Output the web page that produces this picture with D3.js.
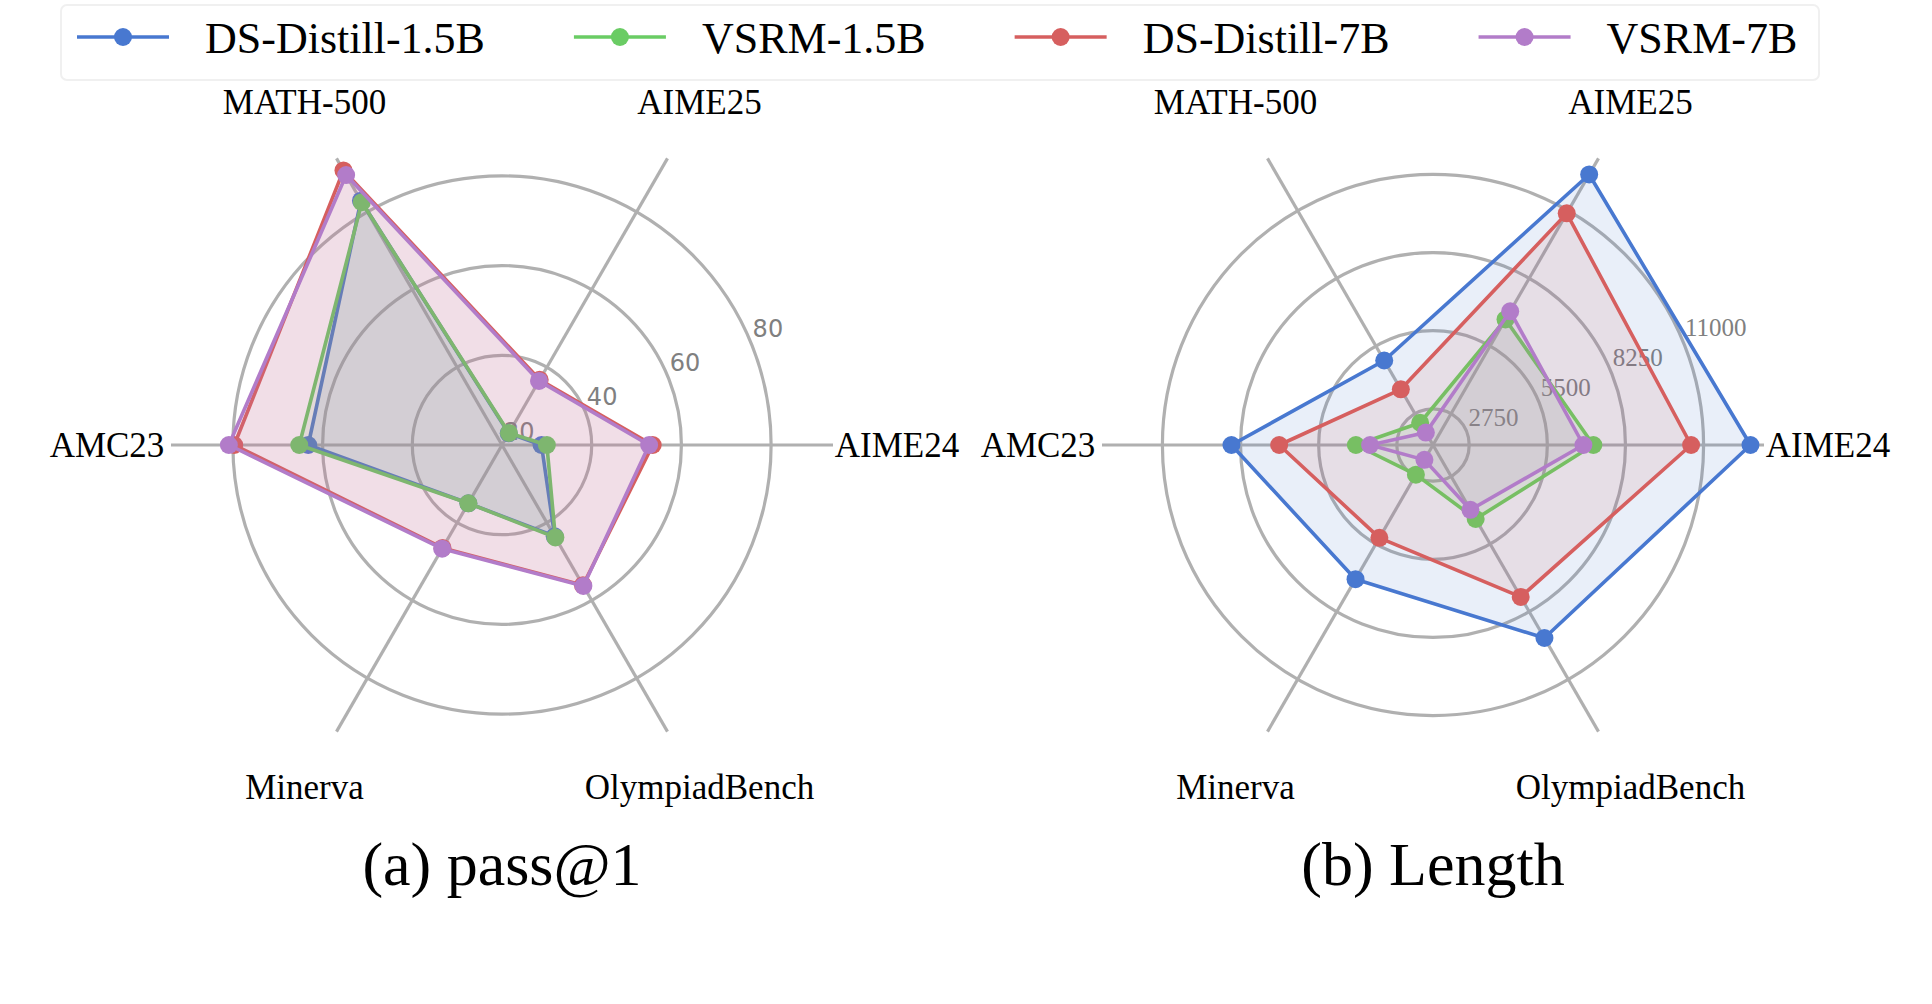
<!DOCTYPE html>
<html>
<head>
<meta charset="utf-8">
<script src="https://cdn.jsdelivr.net/npm/d3@7"></script>
<style>
body { margin: 0; background: #fff; }
</style>
</head>
<body>
<div id="chart-area"></div>
<script>
let width = 1932,
height = 1004;

// Data
const categories = ["AIME24", "AIME25", "MATH-500", "AMC23", "Minerva", "OlympiadBench"];
const models = ["DS-Distill-1.5B", "VSRM-1.5B", "DS-Distill-7B", "VSRM-7B"];
const colors = ["#4878d0", "#6acc64", "#d65f5f", "#b27cc9"];

// pass@1 (%)
const passDS15 = [28.8, 23.0, 82.9, 63.2, 35.0, 43.5];
const passVSRM15 = [30.0, 23.1, 82.5, 65.2, 35.0, 43.8];
const passDS7 = [53.6, 36.8, 90.7, 79.7, 46.5, 56.1];
const passVSRM7 = [52.8, 36.5, 89.5, 80.9, 46.7, 56.3];
const passTicks = [20, 40, 60, 80];

// response length (tokens)
const lenDS15 = [12650, 12470, 4910, 8570, 6930, 9320];
const lenVSRM15 = [7120, 6580, 2380, 4190, 2680, 4480];
const lenDS7 = [10560, 10890, 3740, 6890, 5250, 7650];
const lenVSRM7 = [6770, 6910, 1980, 3690, 2080, 4110];
const lenTicks = [2750, 5500, 8250, 11000];

let svg = d3.select("#chart-area").append("svg")
	.attr("width", width)
	.attr("height", height)
	.style("font-family", "'Liberation Serif', 'Times New Roman', serif");

const outerR = 331;
const labelR = 395;
const tickAngle = 22.5 * Math.PI / 180;

function angleOf(i) {
	return i * 2 * Math.PI / categories.length;
}

function drawRadar(cx, cy, rScale, ticks, series, tickFont, tickSize, title) {
	let g = svg.append("g").attr("transform", "translate(" + cx + "," + cy + ")");

	// rings
	g.selectAll(".ring")
		.data(ticks.filter(t => rScale(t) > 1))
		.enter().append("circle")
		.attr("r", d => rScale(d))
		.attr("fill", "none")
		.attr("stroke", "#b0b0b0")
		.attr("stroke-width", 3.2);

	// spokes
	g.selectAll(".spoke")
		.data(categories)
		.enter().append("line")
		.attr("x1", 0).attr("y1", 0)
		.attr("x2", (d, i) => outerR * Math.cos(angleOf(i)))
		.attr("y2", (d, i) => -outerR * Math.sin(angleOf(i)))
		.attr("stroke", "#b0b0b0")
		.attr("stroke-width", 3.2);

	// radial tick labels
	g.selectAll(".tick")
		.data(ticks)
		.enter().append("text")
		.attr("x", d => rScale(d) * Math.cos(tickAngle) + 2)
		.attr("y", d => -rScale(d) * Math.sin(tickAngle) - 13.5)
		.attr("dominant-baseline", "central")
		.style("font-family", tickFont)
		.style("font-size", tickSize + "px")
		.attr("fill", "#808080")
		.text(d => d);

	// category labels
	g.selectAll(".cat")
		.data(categories)
		.enter().append("text")
		.attr("x", (d, i) => labelR * Math.cos(angleOf(i)))
		.attr("y", (d, i) => -labelR * Math.sin(angleOf(i)))
		.attr("text-anchor", "middle")
		.attr("dominant-baseline", "central")
		.style("font-size", "35px")
		.attr("fill", "#000")
		.text(d => d);

	// traces
	let line = d3.lineRadial()
		.angle((d, i) => Math.PI / 2 - angleOf(i))
		.radius(d => rScale(d))
		.curve(d3.curveLinearClosed);

	series.forEach((vals, k) => {
		let tg = g.append("g");
		tg.append("path")
			.attr("d", line(vals))
			.attr("fill", colors[k])
			.attr("fill-opacity", 0.12)
			.attr("stroke", colors[k])
			.attr("stroke-width", 3.6)
			.attr("stroke-linejoin", "round");
		tg.selectAll("circle")
			.data(vals)
			.enter().append("circle")
			.attr("cx", (d, i) => rScale(d) * Math.cos(angleOf(i)))
			.attr("cy", (d, i) => -rScale(d) * Math.sin(angleOf(i)))
			.attr("r", 9)
			.attr("fill", colors[k]);
	});

	svg.append("text")
		.attr("x", cx)
		.attr("y", 885)
		.attr("text-anchor", "middle")
		.style("font-size", "62px")
		.attr("fill", "#000")
		.text(title);
}

let rPass = d3.scaleLinear().domain([20, 93.8]).range([0, outerR]);
let rLen = d3.scaleLinear().domain([1476, 13126]).range([0, outerR]);

drawRadar(502, 445, rPass, passTicks, [passDS15, passVSRM15, passDS7, passVSRM7],
	"'DejaVu Sans', sans-serif", 24, "(a) pass@1");
drawRadar(1433, 445, rLen, lenTicks, [lenDS15, lenVSRM15, lenDS7, lenVSRM7],
	"'Liberation Serif', serif", 25, "(b) Length");

// Legend
let legend = svg.append("g");
legend.append("rect")
	.attr("x", 61).attr("y", 5)
	.attr("width", 1758).attr("height", 75)
	.attr("rx", 6)
	.attr("fill", "#fff")
	.attr("stroke", "#f0f0f0")
	.attr("stroke-width", 2);

let lx = 77;
models.forEach((m, k) => {
	let item = legend.append("g").attr("transform", "translate(" + lx + ",0)");
	item.append("line")
		.attr("x1", 0).attr("x2", 92)
		.attr("y1", 37).attr("y2", 37)
		.attr("stroke", colors[k])
		.attr("stroke-width", 3.6);
	item.append("circle")
		.attr("cx", 46).attr("cy", 37)
		.attr("r", 9)
		.attr("fill", colors[k]);
	let t = item.append("text")
		.attr("x", 128).attr("y", 53)
		.style("font-size", "44px")
		.attr("fill", "#000")
		.text(m);
	lx += 128 + t.node().getComputedTextLength() + 89;
});
</script>
</body>
</html>
